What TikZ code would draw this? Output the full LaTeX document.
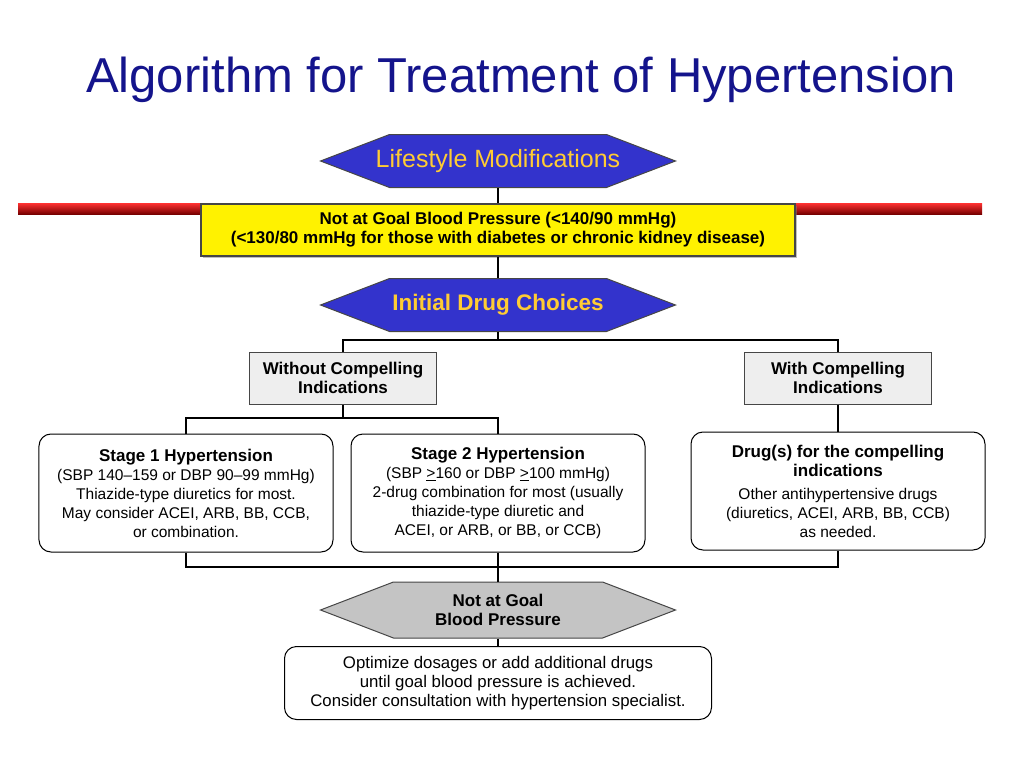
\documentclass[tikz,border=0pt]{standalone}
\usepackage{fontspec}
\setmainfont{Liberation Sans}
\usetikzlibrary{shapes.symbols,shadows}

\definecolor{titleblue}{RGB}{20,20,140}
\definecolor{hexblue}{RGB}{51,51,204}
\definecolor{hexgold}{RGB}{255,204,51}
\definecolor{boxgray}{RGB}{238,238,238}
\definecolor{hexgray}{RGB}{196,196,196}
\definecolor{edgegray}{RGB}{70,70,70}

\tikzset{
  body/.style={font=\fontsize{15.5bp}{19bp}\selectfont, align=center},
  head/.style={font=\fontsize{17bp}{19bp}\selectfont\bfseries},
  hexa/.style={signal, signal to=west and east, signal pointer angle=42,
    draw=edgegray, line width=1bp, minimum width=355bp, minimum height=53bp, inner sep=0pt},
  graybox/.style={body, head, draw=edgegray, line width=1bp, fill=boxgray,
    minimum width=187bp, minimum height=52bp, inner sep=0pt},
  roundbox/.style={body, draw=black, line width=1bp, rounded corners=12bp,
    minimum width=294bp, minimum height=118bp, inner sep=0pt},
  link/.style={line width=1.2bp, black}
}

\begin{document}
\begin{tikzpicture}[x=1bp,y=-1bp]
\useasboundingbox (0,0) rectangle (1024,768);

\node[anchor=base, text=titleblue, font=\fontsize{49bp}{54bp}\selectfont] (title) at (521,93)
  {Algorithm for Treatment of Hypertension};

% red bar behind the goal box
\shade[top color={rgb,255:red,255;green,50;blue,50}, bottom color={rgb,255:red,120;green,0;blue,0}]
  (18,203) rectangle (982,214);

\node[hexa, fill=hexblue, text=hexgold, inner xsep=-15bp, font=\fontsize{25bp}{28bp}\selectfont] (life) at (498,161)
  {Lifestyle Modifications};

\node[body, font=\fontsize{17bp}{19bp}\selectfont\bfseries, draw=edgegray, line width=1.5bp,
  fill=yellow, minimum width=594bp, minimum height=52bp, inner sep=0pt,
  drop shadow={shadow xshift=2bp, shadow yshift=-2bp, opacity=0.5}] (goal) at (498,230)
  {Not at Goal Blood Pressure (<140/90 mmHg)\\
   (<130/80 mmHg for those with diabetes or chronic kidney disease)};

\node[hexa, fill=hexblue, text=hexgold, font=\fontsize{22.5bp}{26bp}\selectfont\bfseries] (init) at (498,305)
  {Initial Drug Choices};

\node[graybox] (without) at (343,378)
  {Without Compelling\\Indications};
\node[graybox] (with) at (838,378)
  {With Compelling\\Indications};

\node[roundbox] (stage1) at (186,493)
  {{\bfseries\fontsize{17bp}{19bp}\selectfont Stage 1 Hypertension}\\
   (SBP 140–159 or DBP 90–99 mmHg)\\
   Thiazide-type diuretics for most.\\
   May consider ACEI, ARB, BB, CCB,\\
   or combination.};
\node[roundbox] (stage2) at (498,493)
  {{\bfseries\fontsize{17bp}{19bp}\selectfont Stage 2 Hypertension}\\
   (SBP \underline{>}160 or DBP \underline{>}100 mmHg)\\
   2-drug combination for most (usually\\
   thiazide-type diuretic and\\
   ACEI, or ARB, or BB, or CCB)};
\node[roundbox] (drugs) at (838,491)
  {{\bfseries\fontsize{17bp}{19bp}\selectfont Drug(s) for the compelling}\\
   {\bfseries\fontsize{17bp}{19bp}\selectfont indications}\\[4bp]
   Other antihypertensive drugs\\
   (diuretics, ACEI, ARB, BB, CCB)\\
   as needed.};

\node[hexa, fill=hexgray, minimum height=56bp, body, head] (notgoal) at (498,610)
  {Not at Goal\\Blood Pressure};

\node[roundbox, minimum width=427bp, minimum height=73bp, font=\fontsize{16.8bp}{19bp}\selectfont] (final) at (498,683)
  {Optimize dosages or add additional drugs\\
   until goal blood pressure is achieved.\\
   Consider consultation with hypertension specialist.};

% connectors
\coordinate (j1) at (498,340);
\coordinate (j2) at (343,418);
\coordinate (j3) at (498,567);

\draw[link] (life.south) -- (goal.north);
\draw[link] (goal.south) -- (init.north);
\draw[link] (init.south) -- (j1);
\draw[link] (without.north) |- (j1) -| (with.north);
\draw[link] (without.south) -- (j2);
\draw[link] (stage1.north) |- (j2) -| (stage2.north);
\draw[link] (with.south) -- (drugs.north);
\draw[link] (stage1.south) |- (j3) -| (drugs.south);
\draw[link] (stage2.south) -- (j3);
\draw[link] (j3) -- (notgoal.north);
\draw[link] (notgoal.south) -- (final.north);
\end{tikzpicture}
\end{document}
